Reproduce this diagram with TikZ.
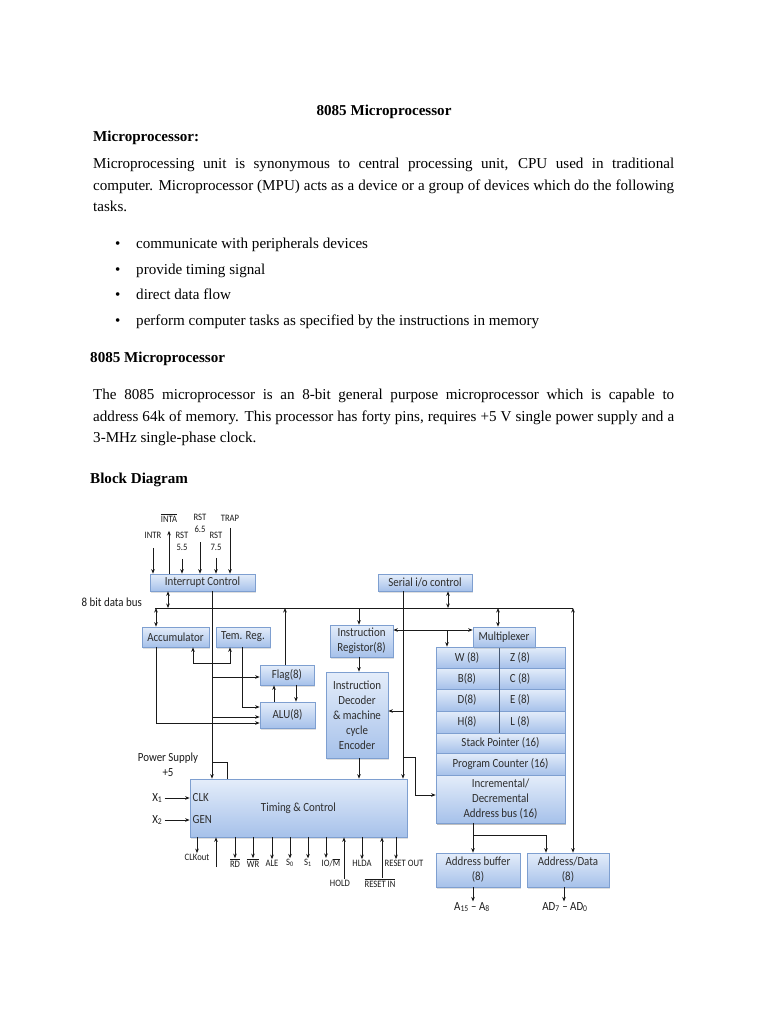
\documentclass[tikz,border=0pt]{standalone}
\usepackage{fontspec}
\setmainfont{Liberation Serif}
\newfontfamily\diagf[FakeStretch=0.88]{Carlito}
\usetikzlibrary{arrows.meta,shadows}
\definecolor{btop}{HTML}{E4EDFA}
\definecolor{bbot}{HTML}{A6C1EA}
\definecolor{bdr}{HTML}{7E9FD0}
\definecolor{btxt}{HTML}{2E2E2E}
\definecolor{lc}{HTML}{1A1A1A}
\newcommand\bodysz{\fontsize{15.1}{18}\selectfont}
\newcommand\diagsz{\diagf\fontsize{12.4}{15}\selectfont}
\newcommand\smallsz{\diagf\fontsize{9.8}{12}\selectfont}
\tikzset{
  blk/.style={draw=bdr, line width=0.7pt, top color=btop, bottom color=bbot, text=btxt,
    font=\diagsz, inner sep=0pt, align=center},
  sblk/.style={blk, drop shadow={shadow xshift=1.3pt, shadow yshift=-1.5pt, opacity=0.25}},
  conn/.style={draw=lc, line width=0.8pt},
  arw/.style={conn, -{Stealth[length=4.5pt,width=3.6pt]}},
  darw/.style={conn, {Stealth[length=4.5pt,width=3.6pt]}-{Stealth[length=4.5pt,width=3.6pt]}},
  siglbl/.style={font=\smallsz, text=lc, inner sep=0.5pt, align=center},
  mlbl/.style={font=\diagsz, text=lc, inner sep=0.5pt, align=center},
  bodytxt/.style={font=\bodysz, anchor=mid west, inner sep=0pt},
  headtxt/.style={font=\bodysz\bfseries, anchor=mid west, inner sep=0pt},
}
\begin{document}
\begin{tikzpicture}[x=1pt,y=-1pt]
\useasboundingbox (0,0) rectangle (768,1024);
\fill[white] (0,0) rectangle (768,1024);

% ---------------- text ----------------
\node[headtxt, anchor=mid] (title) at (384,113) {8085 Microprocessor};
\node[headtxt] (h1) at (93,139) {Microprocessor:};
\node[bodytxt] (p1a) at (93,166) {\makebox[581pt][s]{Microprocessing unit is synonymous to central processing unit, CPU used in traditional}};
\node[bodytxt] (p1b) at (93,188) {\makebox[581pt][s]{computer. Microprocessor (MPU) acts as a device or a group of devices which do the following}};
\node[bodytxt] (p1c) at (93,209) {tasks.};
\node[bodytxt] (b1) at (115,246) {•};
\node[bodytxt] (t1) at (136,246) {communicate with peripherals devices};
\node[bodytxt] (b2) at (115,272) {•};
\node[bodytxt] (t2) at (136,272) {provide timing signal};
\node[bodytxt] (b3) at (115,297) {•};
\node[bodytxt] (t3) at (136,297) {direct data flow};
\node[bodytxt] (b4) at (115,323) {•};
\node[bodytxt] (t4) at (136,323) {perform computer tasks as specified by the instructions in memory};
\node[headtxt] (h2) at (90,360) {8085 Microprocessor};
\node[bodytxt] (p2a) at (93,397) {\makebox[581pt][s]{The 8085 microprocessor is an 8-bit general purpose microprocessor which is capable to}};
\node[bodytxt] (p2b) at (93,419) {\makebox[581pt][s]{address 64k of memory. This processor has forty pins, requires +5 V single power supply and a}};
\node[bodytxt] (p2c) at (93,440) {3-MHz single-phase clock.};
\node[headtxt] (h3) at (90,481) {Block Diagram};

% ---------------- helper coordinates ----------------
\coordinate (busL) at (155,608);
\coordinate (busR) at (573,608);
\foreach \x in {156,168,193,198,212,216,227,230,242,274,285,296,326,344,359,382,396,403,415,447,448,473,498,499,546,564}
  {\coordinate (v\x) at (\x,0);}
\foreach \y in {630,663,677,707,711,717,723,757,762,795,835}
  {\coordinate (h\y) at (0,\y);}

% ---------------- blocks ----------------
\node[sblk, minimum width=105pt, minimum height=17pt] (ic) at (202.5,582.5) {Interrupt Control};
\node[sblk, minimum width=94pt, minimum height=17pt] (sio) at (425,582.5) {Serial i/o control};
\node[sblk, minimum width=67pt, minimum height=20pt] (acc) at (175.5,637) {Accumulator};
\node[sblk, minimum width=54pt, minimum height=20pt] (tmp) at (243,637) {Tem. Reg.};
\node[sblk, minimum width=63pt, minimum height=32pt] (ir) at (361.5,641) {Instruction\\Registor(8)};
\node[sblk, minimum width=54pt, minimum height=20pt] (flag) at (287,675) {Flag(8)};
\node[sblk, minimum width=55pt, minimum height=26pt] (alu) at (287.5,715) {ALU(8)};
\node[sblk, minimum width=62pt, minimum height=86pt] (dec) at (357,715) {Instruction\\Decoder\\\& machine\\cycle\\Encoder};

\fill[black, opacity=0.25] (437.3,648.5) rectangle (566.3,824.5);
\node[blk, minimum width=129pt, minimum height=21pt] (wz) at (500.5,657.5) {};
\node[blk, minimum width=129pt, minimum height=21pt] (bc) at (500.5,678.5) {};
\node[blk, minimum width=129pt, minimum height=22pt] (de) at (500.5,700) {};
\node[blk, minimum width=129pt, minimum height=22pt] (hl) at (500.5,722) {};
\node[blk, minimum width=129pt, minimum height=20pt] (sp) at (500.5,743) {Stack Pointer (16)};
\node[blk, minimum width=129pt, minimum height=22pt] (pc) at (500.5,764) {Program Counter (16)};
\node[blk, minimum width=129pt, minimum height=48pt] (id) at (500.5,799) {Incremental/\\Decremental\\Address bus (16)};
\draw[draw=bdr!55!black, line width=0.7pt] (wz.north -| v499) -- (hl.south -| v499);
\node[mlbl, text=btxt] (w) at (467,657.5) {W (8)};
\node[mlbl, text=btxt] (z) at (520,657.5) {Z (8)};
\node[mlbl, text=btxt] (b) at (467,678.5) {B(8)};
\node[mlbl, text=btxt] (c) at (520,678.5) {C (8)};
\node[mlbl, text=btxt] (d) at (467,700) {D(8)};
\node[mlbl, text=btxt] (e) at (520,700) {E (8)};
\node[mlbl, text=btxt] (h) at (467,722) {H(8)};
\node[mlbl, text=btxt] (l) at (520,722) {L (8)};
\node[sblk, minimum width=62pt, minimum height=20pt] (mux) at (504,637) {Multiplexer};

\node[sblk, minimum width=217pt, minimum height=58pt] (tc) at (298.5,808) {Timing \& Control};
\node[mlbl, text=btxt, anchor=west] (clk) at (192,798) {CLK};
\node[mlbl, text=btxt, anchor=west] (gen) at (192,820) {GEN};
\node[sblk, minimum width=84pt, minimum height=34pt] (ab) at (478,870) {Address buffer\\(8)};
\node[sblk, minimum width=82pt, minimum height=34pt] (ad) at (568,870) {Address/Data\\(8)};

% ---------------- labels ----------------
\node[siglbl] (intr) at (153,535) {INTR};
\node[siglbl] (inta) at (169,518) {$\overline{\hbox{INTA}}$};
\node[siglbl] (r55) at (182,541) {RST\\5.5};
\node[siglbl] (r65) at (200,523.5) {RST\\6.5};
\node[siglbl] (r75) at (216,541) {RST\\7.5};
\node[siglbl] (trap) at (230,518) {TRAP};
\node[mlbl, anchor=west] (dbus) at (81,602) {8 bit data bus};
\node[mlbl] (ps) at (168,765) {Power Supply\\+5};
\node[mlbl, anchor=east] (x1) at (163,798) {X\textsubscript{1}};
\node[mlbl, anchor=east] (x2) at (163,820) {X\textsubscript{2}};
\node[siglbl] (clko) at (197,857) {CLKout};
\coordinate (rdy) at (216,867);
\node[siglbl] (rd) at (235,863) {$\overline{\hbox{RD}}$};
\node[siglbl] (wr) at (253,863) {$\overline{\hbox{WR}}$};
\node[siglbl] (ale) at (272,863) {ALE};
\node[siglbl] (s0) at (290,863) {S\textsubscript{0}};
\node[siglbl] (s1) at (308,863) {S\textsubscript{1}};
\node[siglbl] (iom) at (331,863) {IO/$\overline{\hbox{M}}$};
\node[siglbl] (hold) at (340,883) {HOLD};
\node[siglbl] (hlda) at (362,863) {HLDA};
\node[siglbl] (rsti) at (380,883) {$\overline{\hbox{RESET IN}}$};
\node[siglbl] (rsto) at (404,863) {RESET OUT};
\node[mlbl] (alab) at (472,907) {A\textsubscript{15} – A\textsubscript{8}};
\node[mlbl] (adlab) at (565,907) {AD\textsubscript{7} – AD\textsubscript{0}};

% ---------------- connectors ----------------
% interrupt inputs
\draw[arw] ([yshift=-9pt]intr.south) -- (intr.south |- ic.north);
\draw[arw] (inta.south |- ic.north) -- ([yshift=-8pt]inta.south);
\draw[arw] ([yshift=-8pt]r55.south) -- (r55.south |- ic.north);
\draw[arw] ([yshift=-9pt]r65.south) -- (r65.south |- ic.north);
\draw[arw] ([yshift=-7pt]r75.south) -- (r75.south |- ic.north);
\draw[arw] ([yshift=-6pt]trap.south) -- (trap.south |- ic.north);

% data bus
\draw[conn] (busL) -- (busR);
\draw[darw] (ic.south -| v168) -- (busL -| v168);
\draw[darw] (sio.south -| v448) -- (busL -| v448);
\draw[darw] (busL -| v156) -- (acc.north -| v156);
\draw[arw] (flag.north -| v285) -- (busL -| v285);
\draw[arw] (busL -| v359) -- (ir.north -| v359);
\draw[darw] (busL -| v498) -- (mux.north -| v498);
\draw[darw] (busR) -- (ad.north -| busR);

% control lines
\draw[arw] (ic.south -| v212) -- (tc.north -| v212);
\draw[arw] (sio.south -| v403) -- (tc.north -| v403);
\draw[arw] (h711 -| v403) -- (h711 -| dec.east);
\draw[arw] (h757 -| v403) -| (h795 -| v415) -- (h795 -| id.west);
\draw[darw] (ir.east |- h630) -- (mux.west |- h630);
\draw[arw] (h630 -| v447) -- (wz.north -| v447);
\draw[arw] (ir.south -| v359) -- (dec.north -| v359);
\draw[arw] (dec.south -| v359) -- (tc.north -| v359);

% ALU section
\draw[arw] (tmp.south -| v242) |- (alu.west |- h707);
\draw[darw] (acc.south -| v193) |- (h663 -| v230) -- (tmp.south -| v230);
\draw[arw] (acc.south -| v156) |- (alu.west |- h723);
\draw[arw] (h677 -| v212) -- (flag.west |- h677);
\draw[arw] (h717 -| v212) -- (alu.west |- h717);
\draw[arw] (alu.north -| v274) -- (flag.south -| v274);
\draw[arw] (flag.south -| v296) -- (alu.north -| v296);

% power and clock
\draw[conn] (h762 -| v212) -| (tc.north -| v227);
\draw[arw] ([xshift=1.5pt]x1.east) -- (x1.east -| tc.west);
\draw[arw] ([xshift=1.5pt]x2.east) -- (x2.east -| tc.west);

% timing & control signals
\draw[arw] (tc.south -| clko) -- (clko.north);
\draw[arw] (rdy) -- (tc.south -| rdy);
\draw[arw] (tc.south -| rd) -- (rd.north);
\draw[arw] (tc.south -| wr) -- (wr.north);
\draw[arw] (tc.south -| ale) -- (ale.north);
\draw[arw] (tc.south -| s0) -- (s0.north);
\draw[arw] (tc.south -| s1) -- (s1.north);
\draw[arw] (tc.south -| v326) -- (iom.north -| v326);
\draw[arw] (hold.north -| v344) -- (tc.south -| v344);
\draw[arw] (tc.south -| hlda) -- (hlda.north);
\draw[arw] (rsti.north -| v382) -- (tc.south -| v382);
\draw[arw] (tc.south -| v396) -- (rsto.north -| v396);

% address
\draw[arw] (id.south -| v473) -- (ab.north -| v473);
\draw[arw] (h835 -| v473) -| (ad.north -| v546);
\draw[arw] (ab.south -| v473) -- (alab.north -| v473);
\draw[arw] (ad.south -| v564) -- (adlab.north -| v564);
\end{tikzpicture}
\end{document}
